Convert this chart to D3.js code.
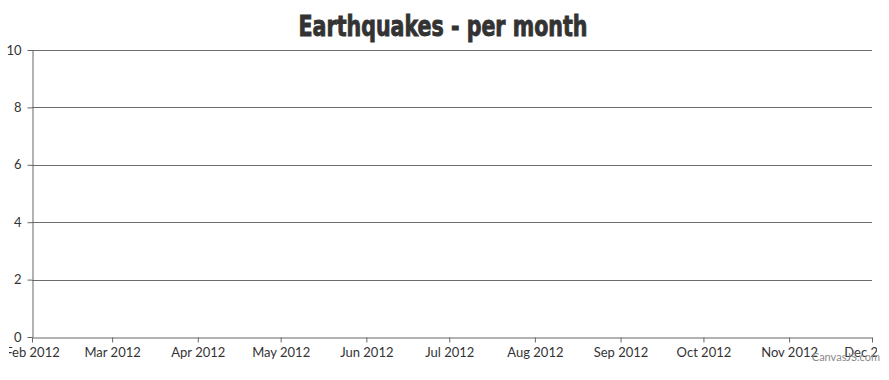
<!DOCTYPE html>
<html><head><meta charset="utf-8">
<script src="https://cdn.jsdelivr.net/npm/d3@7"></script>
<style>body{margin:0;background:#fff}svg{display:block}</style>
</head><body>
<svg id="c" width="889" height="380"></svg>
<script>
const title = "Earthquakes - per month";
const xStart = "2012-02-01";
const xEnd = "2012-12-01";
const yDomain = [0, 10];
const yTicks = [0, 2, 4, 6, 8, 10];
const earthquakes = []; // no data points drawn in the reference

const svg = d3.select("#c");
const W = 889, H = 380;
const m = {left: 32, right: 17, top: 50, bottom: 43};
const parse = d3.timeParse("%Y-%m-%d");
const x = d3.scaleTime().domain([parse(xStart), parse(xEnd)]).range([m.left, W - m.right]);
const y = d3.scaleLinear().domain(yDomain).range([H - m.bottom, m.top]);
const font = "Lato, 'Open Sans', sans-serif";

svg.append("text").attr("x", 443).attr("y", 36).attr("text-anchor", "middle")
  .attr("font-family", "'Liberation Sans Narrow', 'DejaVu Sans Condensed', sans-serif")
  .attr("font-weight", "bold").attr("font-size", 29).attr("fill", "#333")
  .attr("stroke", "#333").attr("stroke-width", 0.9)
  .attr("textLength", 289).attr("lengthAdjust", "spacingAndGlyphs").text(title);

// gridlines
svg.append("g").selectAll("line").data(yTicks.filter(d => d > 0)).join("line")
  .attr("x1", m.left).attr("x2", W - m.right)
  .attr("y1", d => Math.round(y(d)) + 0.5).attr("y2", d => Math.round(y(d)) + 0.5)
  .attr("stroke", "#6b6b6b").attr("stroke-width", 1);

// y axis
const ya = svg.append("g").attr("transform", `translate(${m.left + 0.5},0)`)
  .call(d3.axisLeft(y).tickValues(yTicks).tickSize(5).tickPadding(6).tickSizeOuter(0));
ya.select(".domain").attr("stroke", "#666");
ya.selectAll(".tick line").attr("stroke", "#666");
ya.selectAll("text").attr("font-family", font).attr("font-size", 13).attr("fill", "#333");

// x axis (clipped like the reference canvas)
svg.append("defs").append("clipPath").attr("id", "xclip")
  .append("rect").attr("x", 9).attr("y", 0).attr("width", 868).attr("height", H);
const xwrap = svg.append("g").attr("clip-path", "url(#xclip)");
const xa = xwrap.append("g").attr("transform", `translate(0,${Math.round(y(0)) + 0.5})`)
  .call(d3.axisBottom(x).ticks(d3.timeMonth.every(1)).tickFormat(d3.timeFormat("%b %Y"))
    .tickSize(5).tickPadding(5).tickSizeOuter(0));
xa.select(".domain").attr("stroke", "#666");
xa.selectAll(".tick line").attr("stroke", "#666");
xa.selectAll("text").attr("font-family", font).attr("font-size", 13).attr("fill", "#333");

// data marks (none in reference)
svg.append("g").selectAll("circle").data(earthquakes).join("circle")
  .attr("cx", d => x(parse(d.date))).attr("cy", d => y(d.value)).attr("r", 3);

svg.append("text").attr("x", 880).attr("y", 361).attr("text-anchor", "end")
  .attr("font-family", font).attr("font-size", 11).attr("fill", "#8a8a8a").text("CanvasJS.com");
</script>
</body></html>
